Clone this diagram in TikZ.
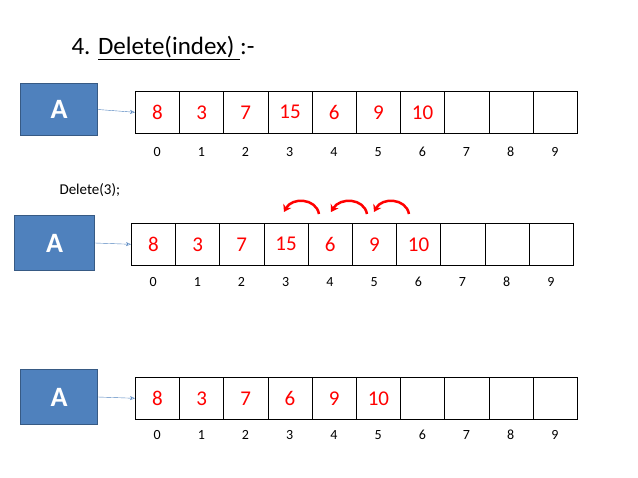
\documentclass[tikz,border=0pt]{standalone}
\usepackage{fontspec}
\setmainfont{Carlito}
\usetikzlibrary{arrows.meta}
\definecolor{ab}{RGB}{79,129,189}
\begin{document}
\begin{tikzpicture}[x=1pt,y=-1pt,
  cell/.style={draw,line width=0.6pt,minimum width=44.2pt,minimum height=42pt,inner sep=0pt,text=red,font=\fontsize{21}{24}\selectfont,anchor=north west},
  idx/.style={font=\fontsize{14}{16}\selectfont},
  ptr/.style={draw=ab,-{Stealth[length=5pt,width=4pt,open]}},
  shiftarrow/.style={draw=red,line width=2.5pt,-{Stealth[length=7pt,width=9pt]}}]
\useasboundingbox (0,0) rectangle (638,478);
\node[anchor=west,font=\fontsize{25}{28}\selectfont] (title) at (68,48) {4. \underline{Delete(index) }:-};
\node[anchor=west,font=\fontsize{15}{17}\selectfont] (dl) at (56,190) {Delete(3);};
\foreach \r/\ax/\ay/\aw/\ah/\cx/\cy/\iy/\vals in
 {1/20/83/77/52/135/91/152/{8,3,7,15,6,9,10,,,},
  2/14/215/80/55/131/223/282/{8,3,7,15,6,9,10,,,},
  3/20/369/77/55/135/377/435/{8,3,7,6,9,10,,,,}}{
  \node[draw=ab!70!black,fill=ab,line width=1pt,text=white,font=\fontsize{28}{30}\selectfont\bfseries,minimum width=\aw pt,minimum height=\ah pt,inner sep=0pt,anchor=north west] (A\r) at (\ax,\ay) {A};
  \foreach \v [count=\i from 0] in \vals {
    \node[cell] (c\r-\i) at ({\cx+44.2*\i},\cy) {\v};
    \node[idx] (i\r-\i) at ({\cx+44.2*\i+22.1},\iy) {\i};
  }
  \draw[ptr] (A\r.east) -- (c\r-0.west);
}
\coordinate (s4) at (319,214); \coordinate (e3) at (284,212);
\coordinate (s5) at (367,214); \coordinate (e4) at (331,212);
\coordinate (s6) at (409,214); \coordinate (e5) at (374,212);
\draw[shiftarrow] (s4) .. controls (316,198) and (292,197) .. (e3);
\draw[shiftarrow] (s5) .. controls (364,198) and (340,197) .. (e4);
\draw[shiftarrow] (s6) .. controls (406,198) and (382,197) .. (e5);
\end{tikzpicture}
\end{document}
